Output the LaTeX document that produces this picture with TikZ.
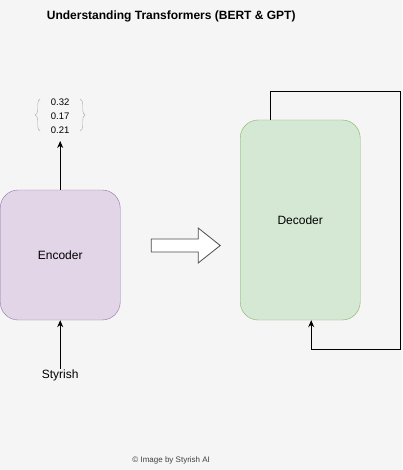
\documentclass[tikz,border=0pt]{standalone}
\usepackage{fontspec}
\setmainfont{Liberation Sans}
\usetikzlibrary{arrows.meta,decorations.pathreplacing}

\definecolor{bgcol}{HTML}{F5F5F5}
\definecolor{encfill}{HTML}{E1D5E7}
\definecolor{encline}{HTML}{9673A6}
\definecolor{decfill}{HTML}{D5E8D4}
\definecolor{decline}{HTML}{82B366}

\tikzset{
  block/.style = {draw, rounded corners=18pt, minimum width=120pt, inner sep=0pt, font=\fontsize{12}{14}\selectfont},
  lbl/.style = {inner sep=0pt, font=\fontsize{12}{14}\selectfont},
  flow/.style = {-{Stealth[length=7pt,width=6pt]}, line width=0.8pt},
  vecbrace/.style = {draw=black!35, decorate, decoration={brace, amplitude=5pt}}
}

\begin{document}
\begin{tikzpicture}[x=1pt, y=-1pt]
        \fill[bgcol] (0,0) rectangle (402,470);
        \node at (171,16) [lbl, font=\fontsize{12}{14}\selectfont\bfseries] (title) {Understanding Transformers (BERT \& GPT)};
        \node at (60,255) [block, fill=encfill, draw=encline, minimum height=130pt] (enc) {Encoder};
        \node at (300,220) [block, fill=decfill, draw=decline, minimum height=200pt] (dec) {Decoder};
        \node at (60,375) [lbl] (inp) {Styrish};
        \node at (60,116) [align=center, inner sep=0pt, font=\fontsize{9.5}{14}\selectfont] (vec) {0.32\\0.17\\0.21};
        \node at (171,460) [lbl, font=\fontsize{8}{10}\selectfont, text=black!75] (credit) {\textcopyright{} Image by Styrish AI};
        \coordinate (top) at (60,141);
        \draw[vecbrace] (40,131) -- (40,99);
        \draw[vecbrace] (80,99) -- (80,131);
        \draw[flow] (inp) -- (enc);
        \draw[flow] (enc) -- (top);
        % block arrow between the two stacks
        \draw[black!70, fill=white, line width=0.8pt] (151,239) -- (198,239) -- (198,228) -- (220,245.5) -- (198,263) -- (198,252) -- (151,252) -- cycle;
        % decoder feeds back into itself
        \coordinate (lpa) at (270,91);
        \coordinate (lpb) at (400,91);
        \coordinate (lpc) at (400,349);
        \coordinate (lpd) at (311,349);
        \draw[flow] (dec.north -| lpa) -- (lpa) -- (lpb) -- (lpc) -- (lpd) -- (dec.south -| lpd);
      \end{tikzpicture}
\end{document}
